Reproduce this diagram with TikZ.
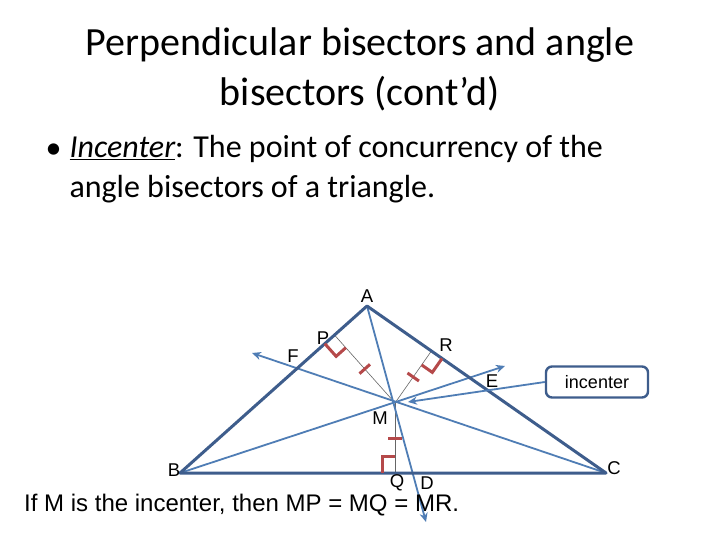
\documentclass[tikz,border=0pt]{standalone}
\usepackage{fontspec}
\setmainfont{Carlito}
\newfontfamily\arialf{Liberation Sans}
\usetikzlibrary{calc,arrows.meta}
\definecolor{tri}{HTML}{3E5D8C}
\definecolor{bis}{HTML}{4F7DB5}
\definecolor{mk}{HTML}{B5494A}
\begin{document}
\begin{tikzpicture}[x=1pt,y=-1pt,
  lbl/.style={font=\arialf\fontsize{18.5}{20}\selectfont,inner sep=0pt},
  side/.style={tri,line width=3pt},
  bisl/.style={bis,line width=1.8pt,-{Stealth[length=9pt,width=8pt]}},
  redmark/.style={mk,line width=3pt},
  thinl/.style={gray!80!black,line width=0.6pt}]
\useasboundingbox[fill=white] (0,0) rectangle (720,540);
\node[font=\fontsize{40}{50}\selectfont,align=center] (title) at (360,69) {Perpendicular bisectors and angle\\bisectors (cont’d)};
\node[font=\fontsize{32}{40}\selectfont,anchor=west] (bul) at (42,151) {•};
\node[font=\fontsize{32}{40}\selectfont,anchor=north west,align=left] (def) at (66,132) {\underline{\itshape Incenter}: The point of concurrency of the\\angle bisectors of a triangle.};
\coordinate (A) at (367,306);
\coordinate (B) at (180,473);
\coordinate (C) at (606,473);
\coordinate (M) at (395,403);
\coordinate (P) at (334.5,335);
\coordinate (R) at (431.4,351);
\coordinate (Q) at (395,473);
\coordinate (D1) at (426,522);
\coordinate (E1) at (505,366);
\coordinate (F1) at (252,353);
\draw[thinl] (M) -- (P);
\draw[thinl] (M) -- (R);
\draw[thinl] (M) -- (Q);
\draw[bisl] (A) -- (D1);
\draw[bisl] (B) -- (E1);
\draw[bisl] (C) -- (F1);
\draw[side,line join=round] (A) -- (B) -- (C) -- cycle;
\foreach \f/\o in {P/B,R/C,Q/B}{
  \draw[redmark] ($(\f)!17pt!(M)$) -- ($($(\f)!17pt!(M)$)+($(\f)!13pt!(\o)$)-(\f)$) -- ($(\f)!13pt!(\o)$);
}
\foreach \f in {P,R,Q}{
  \coordinate (mid) at ($(M)!0.5!(\f)$);
  \draw[redmark] ($(mid)!7pt!90:(M)$) -- ($(mid)!7pt!-90:(M)$);
}
\node[draw=tri,line width=2.4pt,rounded corners=6pt,minimum width=102pt,minimum height=31pt,font=\arialf\fontsize{18}{20}\selectfont,text depth=0pt] (inc) at (597,382) {incenter};
\coordinate (tipM) at (408,402);
\draw[bis,line width=1.8pt,-{Stealth[length=9pt,width=8pt]}] (inc.west) -- (tipM);
\node[lbl] (lA) at (367,296) {A};
\node[lbl] (lB) at (174,470) {B};
\node[lbl] (lC) at (614,468) {C};
\node[lbl] (lF) at (293,356) {F};
\node[lbl] (lP) at (323,338) {P};
\node[lbl] (lR) at (446,345) {R};
\node[lbl] (lE) at (492,381) {E};
\node[lbl] (lM) at (380,418) {M};
\node[lbl] (lQ) at (397,483) {Q};
\node[lbl] (lD) at (427,483) {D};
\node[font=\arialf\fontsize{24}{28}\selectfont,anchor=west,inner sep=0pt] (stmt) at (24,505) {If M is the incenter, then MP = MQ = MR.};
\end{tikzpicture}
\end{document}
